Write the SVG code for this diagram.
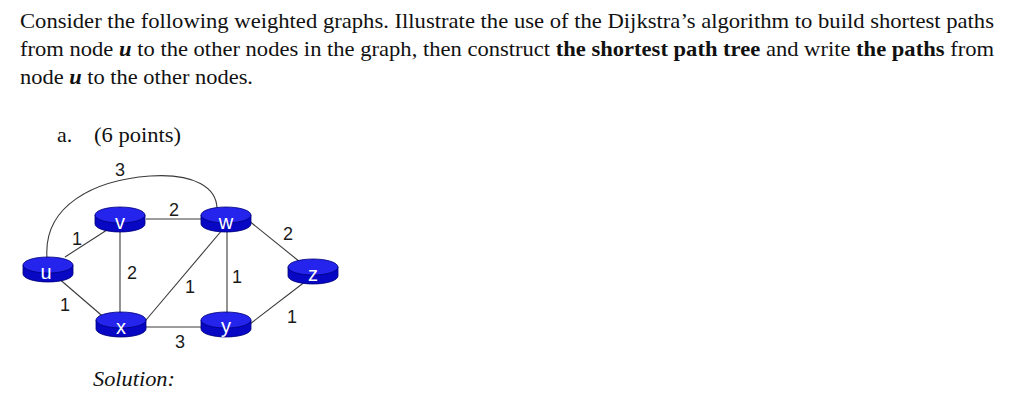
<svg xmlns="http://www.w3.org/2000/svg" width="1024" height="418" viewBox="0 0 1024 418">
<style>
.t{font-family:"Liberation Serif","Times New Roman",serif;font-size:22px;fill:#111}
.b{font-weight:bold}
.bi{font-weight:bold;font-style:italic}
.e{stroke:#3a3a3a;stroke-width:1.1;fill:none}
.w{font-family:"Liberation Sans",Arial,sans-serif;font-size:18px;fill:#1a1a1a;text-anchor:middle}
.top{fill:#2424ec;stroke:#00007a;stroke-width:0.8}
.body{fill:#0707c4;stroke:#00007a;stroke-width:0.8}
.lb{font-family:"Liberation Sans",Arial,sans-serif;font-size:20px;fill:#ffffff;text-anchor:middle}
</style>
<defs>
<g id="router">
<path class="body" d="M-25,0 L-25,9 A25,8 0 0 0 25,9 L25,0 Z"/>
<ellipse class="top" cx="0" cy="0" rx="25" ry="8"/>
</g>
</defs>
<rect width="1024" height="418" fill="#ffffff"/>
<text class="t" x="20" y="28" textLength="974" lengthAdjust="spacingAndGlyphs">Consider the following weighted graphs. Illustrate the use of the Dijkstra’s algorithm to build shortest paths</text>
<text class="t" x="20" y="56" textLength="974" lengthAdjust="spacingAndGlyphs">from node <tspan class="bi">u</tspan> to the other nodes in the graph, then construct <tspan class="b">the shortest path tree</tspan> and write <tspan class="b">the paths</tspan> from</text>
<text class="t" x="20" y="84" textLength="233" lengthAdjust="spacingAndGlyphs">node <tspan class="bi">u</tspan> to the other nodes.</text>
<text class="t" x="57" y="142">a.</text>
<text class="t" x="94" y="142" textLength="87" lengthAdjust="spacingAndGlyphs">(6 points)</text>
<text class="t" x="93" y="386" font-style="italic" textLength="82" lengthAdjust="spacingAndGlyphs">Solution:</text>
<g id="connectors">
<path class="e" d="M47,258 C43,205 95,180 150,176 C195,173 217,188 217,209"/>
<line class="e" x1="65" y1="257" x2="110" y2="228"/>
<line class="e" x1="57" y1="277" x2="107" y2="320"/>
<line class="e" x1="146" y1="219" x2="202" y2="219"/>
<line class="e" x1="120" y1="228" x2="120" y2="316"/>
<line class="e" x1="146" y1="320" x2="223" y2="229"/>
<line class="e" x1="227" y1="229" x2="227" y2="315"/>
<line class="e" x1="248" y1="220" x2="300" y2="262"/>
<line class="e" x1="306" y1="281" x2="250" y2="324"/>
<line class="e" x1="146" y1="327" x2="202" y2="327"/>
</g>
<g id="labels">
<text class="w" x="120" y="176">3</text>
<text class="w" x="174" y="216">2</text>
<text class="w" x="288" y="240">2</text>
<text class="w" x="77" y="245">1</text>
<text class="w" x="132" y="279">2</text>
<text class="w" x="190" y="293">1</text>
<text class="w" x="237" y="283">1</text>
<text class="w" x="65" y="311">1</text>
<text class="w" x="292" y="323">1</text>
<text class="w" x="180" y="348">3</text>
</g>
<g id="node-u"><use href="#router" x="48" y="265"/><text class="lb" x="46" y="279">u</text></g>
<g id="node-v"><use href="#router" x="120" y="215"/><text class="lb" x="120" y="229">v</text></g>
<g id="node-w"><use href="#router" x="226" y="215"/><text class="lb" x="226" y="229">w</text></g>
<g id="node-x"><use href="#router" x="121" y="320"/><text class="lb" x="121" y="334">x</text></g>
<g id="node-y"><use href="#router" x="226" y="320"/><text class="lb" x="226" y="333">y</text></g>
<g id="node-z"><use href="#router" x="313" y="267"/><text class="lb" x="313" y="281">z</text></g>
</svg>
